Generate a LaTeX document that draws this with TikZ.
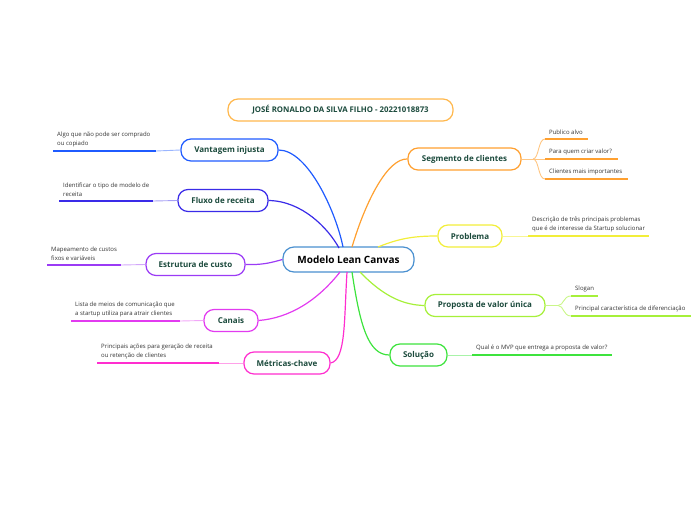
\documentclass[tikz,border=0pt]{standalone}
\usepackage{fontspec}
\setmainfont{Open Sans}
\usepackage{tikz}
\usetikzlibrary{positioning}

\definecolor{vanblue}{HTML}{1F5BFF}
\definecolor{fluxblue}{HTML}{3A2BE8}
\definecolor{custpurple}{HTML}{9B3BF5}
\definecolor{canviolet}{HTML}{E23BF0}
\definecolor{metpink}{HTML}{FF2ECF}
\definecolor{solgreen}{HTML}{3DE33D}
\definecolor{propgreen}{HTML}{A6F03A}
\definecolor{probyellow}{HTML}{F2EE3A}
\definecolor{segorange}{HTML}{FFA030}
\definecolor{titleorange}{HTML}{FFB84D}
\definecolor{leanblue}{HTML}{4A90D0}
\definecolor{topictext}{HTML}{1B4A3C}

\tikzstyle{mainbox} = [rectangle, draw=leanblue, fill=white, rounded corners=11pt,
minimum width=131pt, minimum height=25pt, line width=1.2pt, text=black,
font=\fontsize{10}{12}\selectfont\bfseries]
\tikzstyle{titlebox} = [rectangle, draw=titleorange, fill=white, rounded corners=10pt,
minimum width=225pt, minimum height=22pt, line width=1.2pt, text=topictext,
font=\fontsize{7.8}{9}\selectfont\bfseries]
\tikzstyle{topic} = [rectangle, draw, fill=white, rounded corners=10pt,
minimum height=22pt, line width=1.2pt, text=topictext,
font=\fontsize{8}{9}\selectfont\bfseries]
\tikzstyle{note} = [anchor=south west, inner sep=0pt, align=left, text=black!80,
font=\fontsize{6}{9}\selectfont]
\tikzstyle{branch} = [draw, line width=1.2pt]
\tikzstyle{leaf} = [draw, line width=1.6pt]
\tikzstyle{stem} = [draw, line width=0.9pt]

\begin{document}
\begin{tikzpicture}[x=1pt,y=-1pt]
\useasboundingbox (0,0) rectangle (697,520);
% Place nodes
	\node [mainbox] (lean) at (348.5,259.5) {Modelo Lean Canvas};
	\node [titlebox] (author) at (340.5,110) {JOSÉ RONALDO DA SILVA FILHO - 20221018873};
	\node [topic, draw=vanblue, minimum width=97pt] (vant) at (229.5,150) {Vantagem injusta};
	\node [topic, draw=fluxblue, minimum width=90pt] (fluxo) at (223,200.5) {Fluxo de receita};
	\node [topic, draw=custpurple, minimum width=99pt] (custo) at (195.5,264.5) {Estrutura de custo};
	\node [topic, draw=canviolet, minimum width=54pt] (canais) at (231,320.5) {Canais};
	\node [topic, draw=metpink, minimum width=86pt] (metricas) at (287,363) {Métricas-chave};
	\node [topic, draw=segorange, minimum width=113pt] (segmento) at (464.5,159) {Segmento de clientes};
	\node [topic, draw=probyellow, minimum width=64pt] (problema) at (470,236) {Problema};
	\node [topic, draw=propgreen, minimum width=120pt] (proposta) at (485,305.5) {Proposta de valor única};
	\node [topic, draw=solgreen, minimum width=57pt] (solucao) at (418.5,355) {Solução};

% Leaf ends
	\coordinate (vant-mid) at (156,151);   \coordinate (vant-end) at (53,151);
	\coordinate (fluxo-mid) at (153,201);  \coordinate (fluxo-end) at (59,201);
	\coordinate (custo-mid) at (121,265);  \coordinate (custo-end) at (47,265);
	\coordinate (canais-mid) at (180,321); \coordinate (canais-end) at (71,321);
	\coordinate (metricas-mid) at (219,363); \coordinate (metricas-end) at (97,363);
	\coordinate (problema-mid) at (528,236); \coordinate (problema-end) at (649,236);
	\coordinate (solucao-mid) at (472,355); \coordinate (solucao-end) at (612,355);
	\coordinate (seg-fork) at (533,159);
	\coordinate (seg-a) at (545,139); \coordinate (seg-a-end) at (588,139);
	\coordinate (seg-b) at (545,159); \coordinate (seg-b-end) at (618,159);
	\coordinate (seg-c) at (545,179); \coordinate (seg-c-end) at (628,179);
	\coordinate (prop-fork) at (558,305.5);
	\coordinate (prop-a) at (571,296); \coordinate (prop-a-end) at (598,296);
	\coordinate (prop-b) at (571,316); \coordinate (prop-b-end) at (691,316);

% Draw edges
	\path [branch, vanblue] (vant.east) .. controls (308,150) and (336,212) .. (343,247);
	\path [branch, fluxblue] (fluxo.east) .. controls (302,201) and (328,228) .. (339,248);
	\path [branch, custpurple] (custo.east) .. controls (262,265) and (270,263) .. (lean.west);
	\path [branch, canviolet] (canais.east) .. controls (290,318) and (318,300) .. (340,272);
	\path [branch, metpink] (metricas.east) .. controls (346,360) and (344,320) .. (347,272);
	\path [branch, segorange] (segmento.west) .. controls (388,158) and (366,200) .. (352,247);
	\path [branch, probyellow] (378,247) .. controls (400,238) and (415,236) .. (problema.west);
	\path [branch, propgreen] (360,272) .. controls (385,298) and (405,305) .. (proposta.west);
	\path [branch, solgreen] (352,272) .. controls (360,325) and (368,355) .. (solucao.west);

	\path [stem, vanblue!45] (vant.west) -- (vant-mid);
	\path [leaf, vanblue] (vant-mid) -- (vant-end);
	\path [stem, fluxblue!45] (fluxo.west) -- (fluxo-mid);
	\path [leaf, fluxblue] (fluxo-mid) -- (fluxo-end);
	\path [stem, custpurple!45] (custo.west) -- (custo-mid);
	\path [leaf, custpurple] (custo-mid) -- (custo-end);
	\path [stem, canviolet!45] (canais.west) -- (canais-mid);
	\path [leaf, canviolet] (canais-mid) -- (canais-end);
	\path [stem, metpink!45] (metricas.west) -- (metricas-mid);
	\path [leaf, metpink] (metricas-mid) -- (metricas-end);
	\path [stem, probyellow!55] (problema.east) -- (problema-mid);
	\path [leaf, probyellow] (problema-mid) -- (problema-end);
	\path [stem, solgreen!45] (solucao.east) -- (solucao-mid);
	\path [leaf, solgreen] (solucao-mid) -- (solucao-end);

	\path [stem, segorange!60] (segmento.east) -- (seg-fork);
	\path [stem, segorange!60] (seg-fork) .. controls (539,159) and (538,139) .. (seg-a);
	\path [stem, segorange!60] (seg-fork) -- (seg-b);
	\path [stem, segorange!60] (seg-fork) .. controls (539,159) and (538,179) .. (seg-c);
	\path [leaf, segorange] (seg-a) -- (seg-a-end);
	\path [leaf, segorange] (seg-b) -- (seg-b-end);
	\path [leaf, segorange] (seg-c) -- (seg-c-end);
	\path [stem, propgreen!60] (proposta.east) -- (prop-fork);
	\path [stem, propgreen!60] (prop-fork) .. controls (564,305.5) and (563,296) .. (prop-a);
	\path [stem, propgreen!60] (prop-fork) .. controls (564,305.5) and (563,316) .. (prop-b);
	\path [leaf, propgreen] (prop-a) -- (prop-a-end);
	\path [leaf, propgreen] (prop-b) -- (prop-b-end);

% Notes
	\node [note] at ([xshift=4pt,yshift=4pt]vant-end) {Algo que não pode ser comprado\\ou copiado};
	\node [note] at ([xshift=4pt,yshift=4pt]fluxo-end) {Identificar o tipo de modelo de\\receita};
	\node [note] at ([xshift=4pt,yshift=4pt]custo-end) {Mapeamento de custos\\fixos e variáveis};
	\node [note] at ([xshift=4pt,yshift=4pt]canais-end) {Lista de meios de comunicação que\\a startup utiliza para atrair clientes};
	\node [note] at ([xshift=4pt,yshift=4pt]metricas-end) {Principais ações para geração de receita\\ou retenção de clientes};
	\node [note] at ([xshift=4pt,yshift=4pt]problema-mid) {Descrição de três principais problemas\\que é de interesse da Startup solucionar};
	\node [note] at ([xshift=4pt,yshift=4pt]solucao-mid) {Qual é o MVP que entrega a proposta de valor?};
	\node [note] at ([xshift=4pt,yshift=4pt]seg-a) {Publico alvo};
	\node [note] at ([xshift=4pt,yshift=4pt]seg-b) {Para quem criar valor?};
	\node [note] at ([xshift=4pt,yshift=4pt]seg-c) {Clientes mais importantes};
	\node [note] at ([xshift=4pt,yshift=4pt]prop-a) {Slogan};
	\node [note] at ([xshift=4pt,yshift=4pt]prop-b) {Principal característica de diferenciação};

\end{tikzpicture}
\end{document}
